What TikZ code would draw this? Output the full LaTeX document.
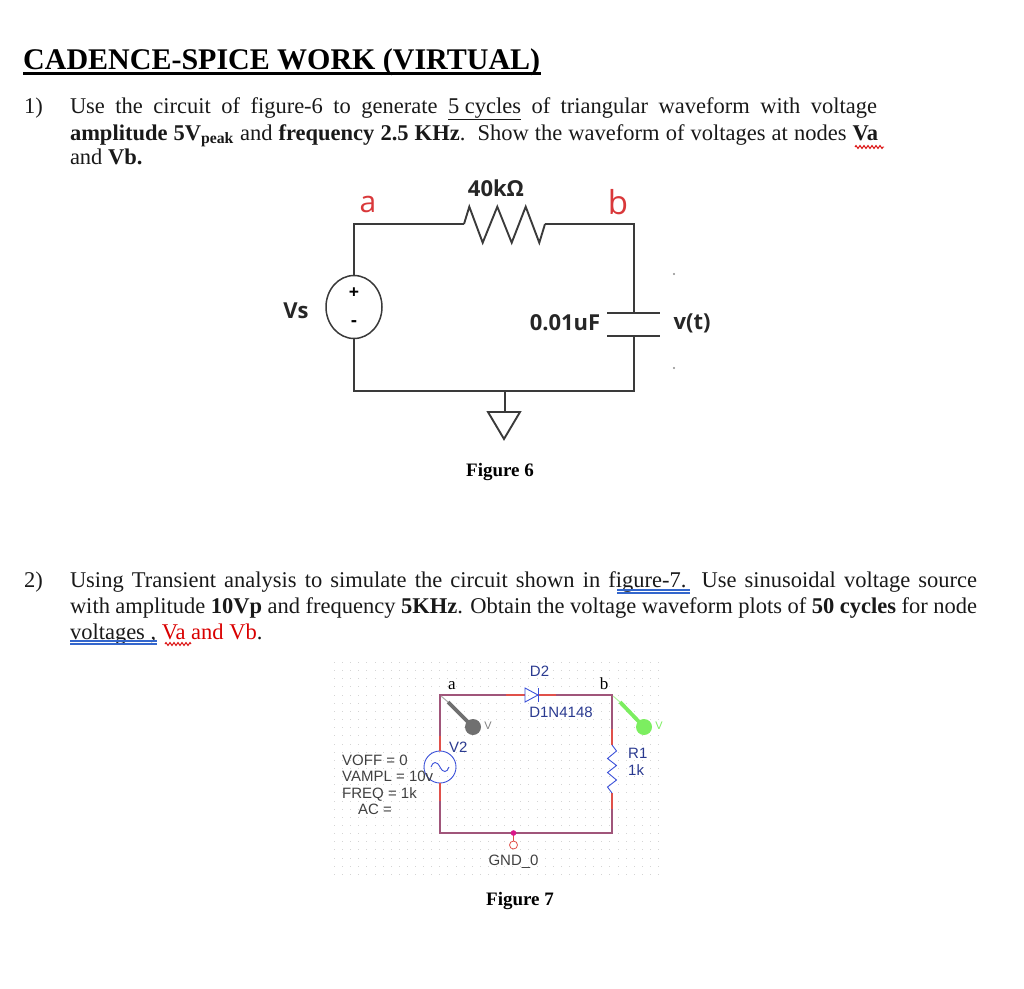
\documentclass[tikz,border=0pt]{standalone}
\usepackage{fontspec}
\setmainfont{Liberation Serif}
\newfontfamily\arialf{Liberation Sans}
\newfontfamily\opensf{Open Sans}
\usetikzlibrary{decorations.pathmorphing,shapes.geometric}
\definecolor{wiregray}{HTML}{3A3A3A}
\definecolor{redlabel}{HTML}{D9383A}
\definecolor{simwire}{HTML}{A0557A}
\definecolor{simred}{HTML}{E0504A}
\definecolor{simblue}{HTML}{3A50D8}
\definecolor{simnavy}{HTML}{2A3A90}
\definecolor{probegray}{HTML}{707070}
\definecolor{probegreen}{HTML}{7CEE60}
\definecolor{spellblue}{HTML}{3366CC}
\definecolor{griddot}{HTML}{D4D4D4}
\tikzset{
  textline/.style={anchor=base west,inner sep=0pt,outer sep=0pt,font=\fontsize{22.5}{26}\selectfont,text=black!90},
  caplabel/.style={anchor=base,inner sep=0pt,font=\fontsize{19}{22}\selectfont\bfseries},
  openlabel/.style={anchor=center,inner sep=0pt,font=\fontsize{22}{26}\selectfont\opensf\bfseries,text=black!85},
  redlab/.style={anchor=base,inner sep=0pt,text=redlabel,font=\opensf},
  wire/.style={draw=wiregray,line width=1.9pt},
  simw/.style={draw=simwire,line width=1.1pt},
  simr/.style={draw=simred,line width=1.1pt},
  simb/.style={draw=simblue,line width=.9pt},
  simlabel/.style={anchor=base west,inner sep=0pt,font=\fontsize{15}{18}\selectfont\arialf},
  spell/.style={draw=spellblue,line width=1.2pt},
  squiggle/.style={draw=red!85!black,line width=.9pt,decorate,decoration={zigzag,amplitude=1.5pt,segment length=4pt}}
}
\newcommand{\tline}[2]{\hbox to #1{#2}}
\begin{document}
\begin{tikzpicture}[x=1pt,y=-1pt]
\useasboundingbox (0,0) rectangle (1024,988);
% heading
\node[anchor=base west,inner sep=0pt,font=\fontsize{30}{32}\selectfont\bfseries] (title) at (23,69) {\tline{517pt}{CADENCE-SPICE WORK (VIRTUAL)}};
\coordinate (tl) at (23,73); \coordinate (tr) at (541,73);
\draw[line width=3pt] (tl) -- (tr);
% problem 1
\node[textline] (n1) at (24,113) {1)};
\node[textline] (l1) at (70,113) {\tline{807pt}{Use the circuit of figure-6 to generate \underline{5 cycles} of triangular waveform with voltage}};
\node[textline] (l2) at (70,140) {\tline{808pt}{\textbf{amplitude 5V\textsubscript{peak}} and \textbf{frequency 2.5 KHz}.\ \ Show the waveform of voltages at nodes \textbf{Va}}};
\node[textline] (l3) at (70,164) {and \textbf{Vb.}};
\coordinate (sq1a) at (855,147); \coordinate (sq1b) at (884,147);
\draw[squiggle] (sq1a) -- (sq1b);
% figure 6
\coordinate (ca) at (354,224); \coordinate (cb) at (634,224);
\coordinate (cc) at (634,391); \coordinate (cd) at (354,391);
\coordinate (rl) at (464,224); \coordinate (rr) at (545,224);
\coordinate (gt) at (505,391);
\node[draw=wiregray,line width=1.5pt,ellipse,inner sep=0pt,minimum width=56pt,minimum height=63pt] (vs) at (354,307) {};
\node[inner sep=0pt,font=\fontsize{18}{20}\selectfont\opensf\bfseries] (plus) at (354,293) {+};
\node[inner sep=0pt,font=\fontsize{18}{20}\selectfont\opensf\bfseries] (minus) at (354,324) {-};
\node[openlabel] (vslab) at (296,311) {Vs};
\node[redlab,font=\fontsize{30}{34}\selectfont\opensf] (la) at (368,212) {a};
\node[redlab,font=\fontsize{33}{36}\selectfont\opensf] (lb) at (618,214) {b};
\node[openlabel] (rv) at (496,188) {40kΩ};
\node[openlabel] (cv) at (565,323) {0.01uF};
\node[openlabel] (vt) at (692,323) {v(t)};
\coordinate (p1t) at (607,313); \coordinate (p1b) at (660,313);
\coordinate (p2t) at (607,336); \coordinate (p2b) at (660,336);
\coordinate (cu) at (634,313); \coordinate (cl) at (634,336);
\draw[wire] (vs.north) -- (ca) -- (rl);
\draw[wire,line join=miter] (rl) -- (469.3,206.7) -- (482.7,242.7) -- (497.3,206.7) -- (511.7,242.7) -- (525.7,206.7) -- (539.3,242.7) -- (rr);
\draw[wire] (rr) -- (cb) -- (cu);
\draw[wire] (p1t) -- (p1b);
\draw[wire] (p2t) -- (p2b);
\draw[wire] (cl) -- (cc) -- (cd) -- (vs.south);
\coordinate (gs) at (505,412);
\draw[wire] (gt) -- (gs);
\draw[wire,line join=miter] (488,412) -- (520,412) -- (504,439) -- cycle;
\fill[black!45] (674,274) circle (1.2pt) (674,368) circle (1.2pt);
\node[caplabel] (f6) at (500,476) {Figure 6};
% problem 2
\node[textline] (n2) at (24,587) {2)};
\node[textline] (m1) at (70,587) {\tline{907pt}{Using Transient analysis to simulate the circuit shown in figure-7. Use sinusoidal voltage source}};
\node[textline] (m2) at (70,613) {\tline{907pt}{with amplitude \textbf{10Vp} and frequency \textbf{5KHz}. Obtain the voltage waveform plots of \textbf{50 cycles} for node}};
\node[textline] (m3) at (70,639) {voltages , \textcolor{red!85!black}{Va and Vb}.};
\coordinate (u1a) at (617,590); \coordinate (u1b) at (690,590);
\coordinate (u2a) at (617,593); \coordinate (u2b) at (690,593);
\coordinate (u3a) at (70,641); \coordinate (u3b) at (157,641);
\coordinate (u4a) at (70,644); \coordinate (u4b) at (157,644);
\draw[spell] (u1a) -- (u1b); \draw[spell] (u2a) -- (u2b);
\draw[spell] (u3a) -- (u3b); \draw[spell] (u4a) -- (u4b);
\coordinate (sq2a) at (165,644); \coordinate (sq2b) at (191,644);
\draw[squiggle] (sq2a) -- (sq2b);
% figure 7 grid
\foreach \gx in {0,...,40} \foreach \gy in {0,...,26}
  \fill[griddot] (334+\gx*8.1,662+\gy*8.15) rectangle +(.9,.9);
\coordinate (sa) at (440,695); \coordinate (sb) at (612,695);
\coordinate (sc) at (612,833); \coordinate (sd) at (440,833);
\coordinate (sg) at (513.5,833);
\node[draw=simblue,line width=.9pt,circle,inner sep=0pt,minimum size=32pt] (v2) at (440,767) {};
\coordinate (st1) at (440,736); \coordinate (st2) at (440,801);
\coordinate (dl) at (525,695); \coordinate (dr) at (538,695);
\coordinate (d1) at (506,695); \coordinate (d2) at (556,695);
\coordinate (rt) at (612,745); \coordinate (rb) at (612,793);
\coordinate (rs1) at (612,729); \coordinate (rs2) at (612,809);
\draw[simw] (st1) -- (sa) -- (d1);
\draw[simr] (d1) -- (dl);
\draw[simr] (dr) -- (d2);
\draw[simw] (d2) -- (sb) -- (rs1);
\draw[simr] (rs1) -- (rt);
\draw[simr] (rb) -- (rs2);
\draw[simw] (rs2) -- (sc) -- (sd) -- (st2);
\draw[simr] (st1) -- (v2.north);
\draw[simr] (v2.south) -- (st2);
\draw[simb] (431,767) .. controls (433,761) and (437,761) .. (440,767) .. controls (443,773) and (447,773) .. (449,767);
\draw[simb,line join=miter] (525,688) -- (538,695) -- (525,702) -- cycle;
\draw[simb] (538.5,688) -- (538.5,702);
\draw[simb,line join=miter] (rt) -- (616.5,751) -- (607.5,758.5) -- (616.5,765.5) -- (607.5,772.5) -- (616.5,780) -- (607.5,787) -- (rb);
% probes
\coordinate (pga) at (441,696); \coordinate (pgb) at (448,702); \coordinate (pgc) at (473,727);
\draw[probegray!60,line width=1pt] (pga) -- (pgb);
\draw[probegray,line width=3.8pt] (pgb) -- (pgc);
\fill[probegray] (pgc) circle (8pt);
\node[inner sep=0pt,text=gray,font=\fontsize{11}{12}\selectfont\arialf] (pgv) at (488,726) {V};
\coordinate (paa) at (613,696); \coordinate (pab) at (620,702); \coordinate (pac) at (644,727);
\draw[probegreen!60,line width=1pt] (paa) -- (pab);
\draw[probegreen,line width=3.8pt] (pab) -- (pac);
\fill[probegreen] (pac) circle (8pt);
\node[inner sep=0pt,text=probegreen,font=\fontsize{11}{12}\selectfont\arialf] (pav) at (659,726) {V};
% ground symbol
\node[draw=simred,line width=.8pt,circle,inner sep=0pt,minimum size=8pt] (go) at (513.5,845) {};
\draw[simr] (sg) -- (go.north);
\fill[magenta!80!violet] (sg) circle (2.8pt);
% labels
\node[anchor=base,inner sep=0pt,font=\fontsize{15}{18}\selectfont\arialf,text=black!75] (gnd) at (513.5,865) {GND\_0};
\node[simlabel,anchor=base,text=simnavy] (d2l) at (539.5,676) {D2};
\node[simlabel,anchor=base,text=simnavy] (dnl) at (561,717) {D1N4148};
\node[simlabel,text=simnavy] (v2l) at (449,752) {V2};
\node[simlabel,text=simnavy] (r1l) at (628,758) {R1};
\node[simlabel,text=simnavy] (r1v) at (628,775) {1k};
\node[simlabel,text=black!75] (voff) at (342,765) {VOFF = 0};
\node[simlabel,text=black!75] (vamp) at (342,781) {VAMPL = 10v};
\node[simlabel,text=black!75] (freq) at (342,798) {FREQ = 1k};
\node[simlabel,text=black!75] (acl) at (358,814) {AC =};
\node[anchor=base,inner sep=0pt,font=\fontsize{17}{20}\selectfont] (sa2) at (452,689) {a};
\node[anchor=base,inner sep=0pt,font=\fontsize{17}{20}\selectfont] (sb2) at (604,689) {b};
\node[caplabel] (f7) at (520,905) {Figure 7};
\end{tikzpicture}
\end{document}
